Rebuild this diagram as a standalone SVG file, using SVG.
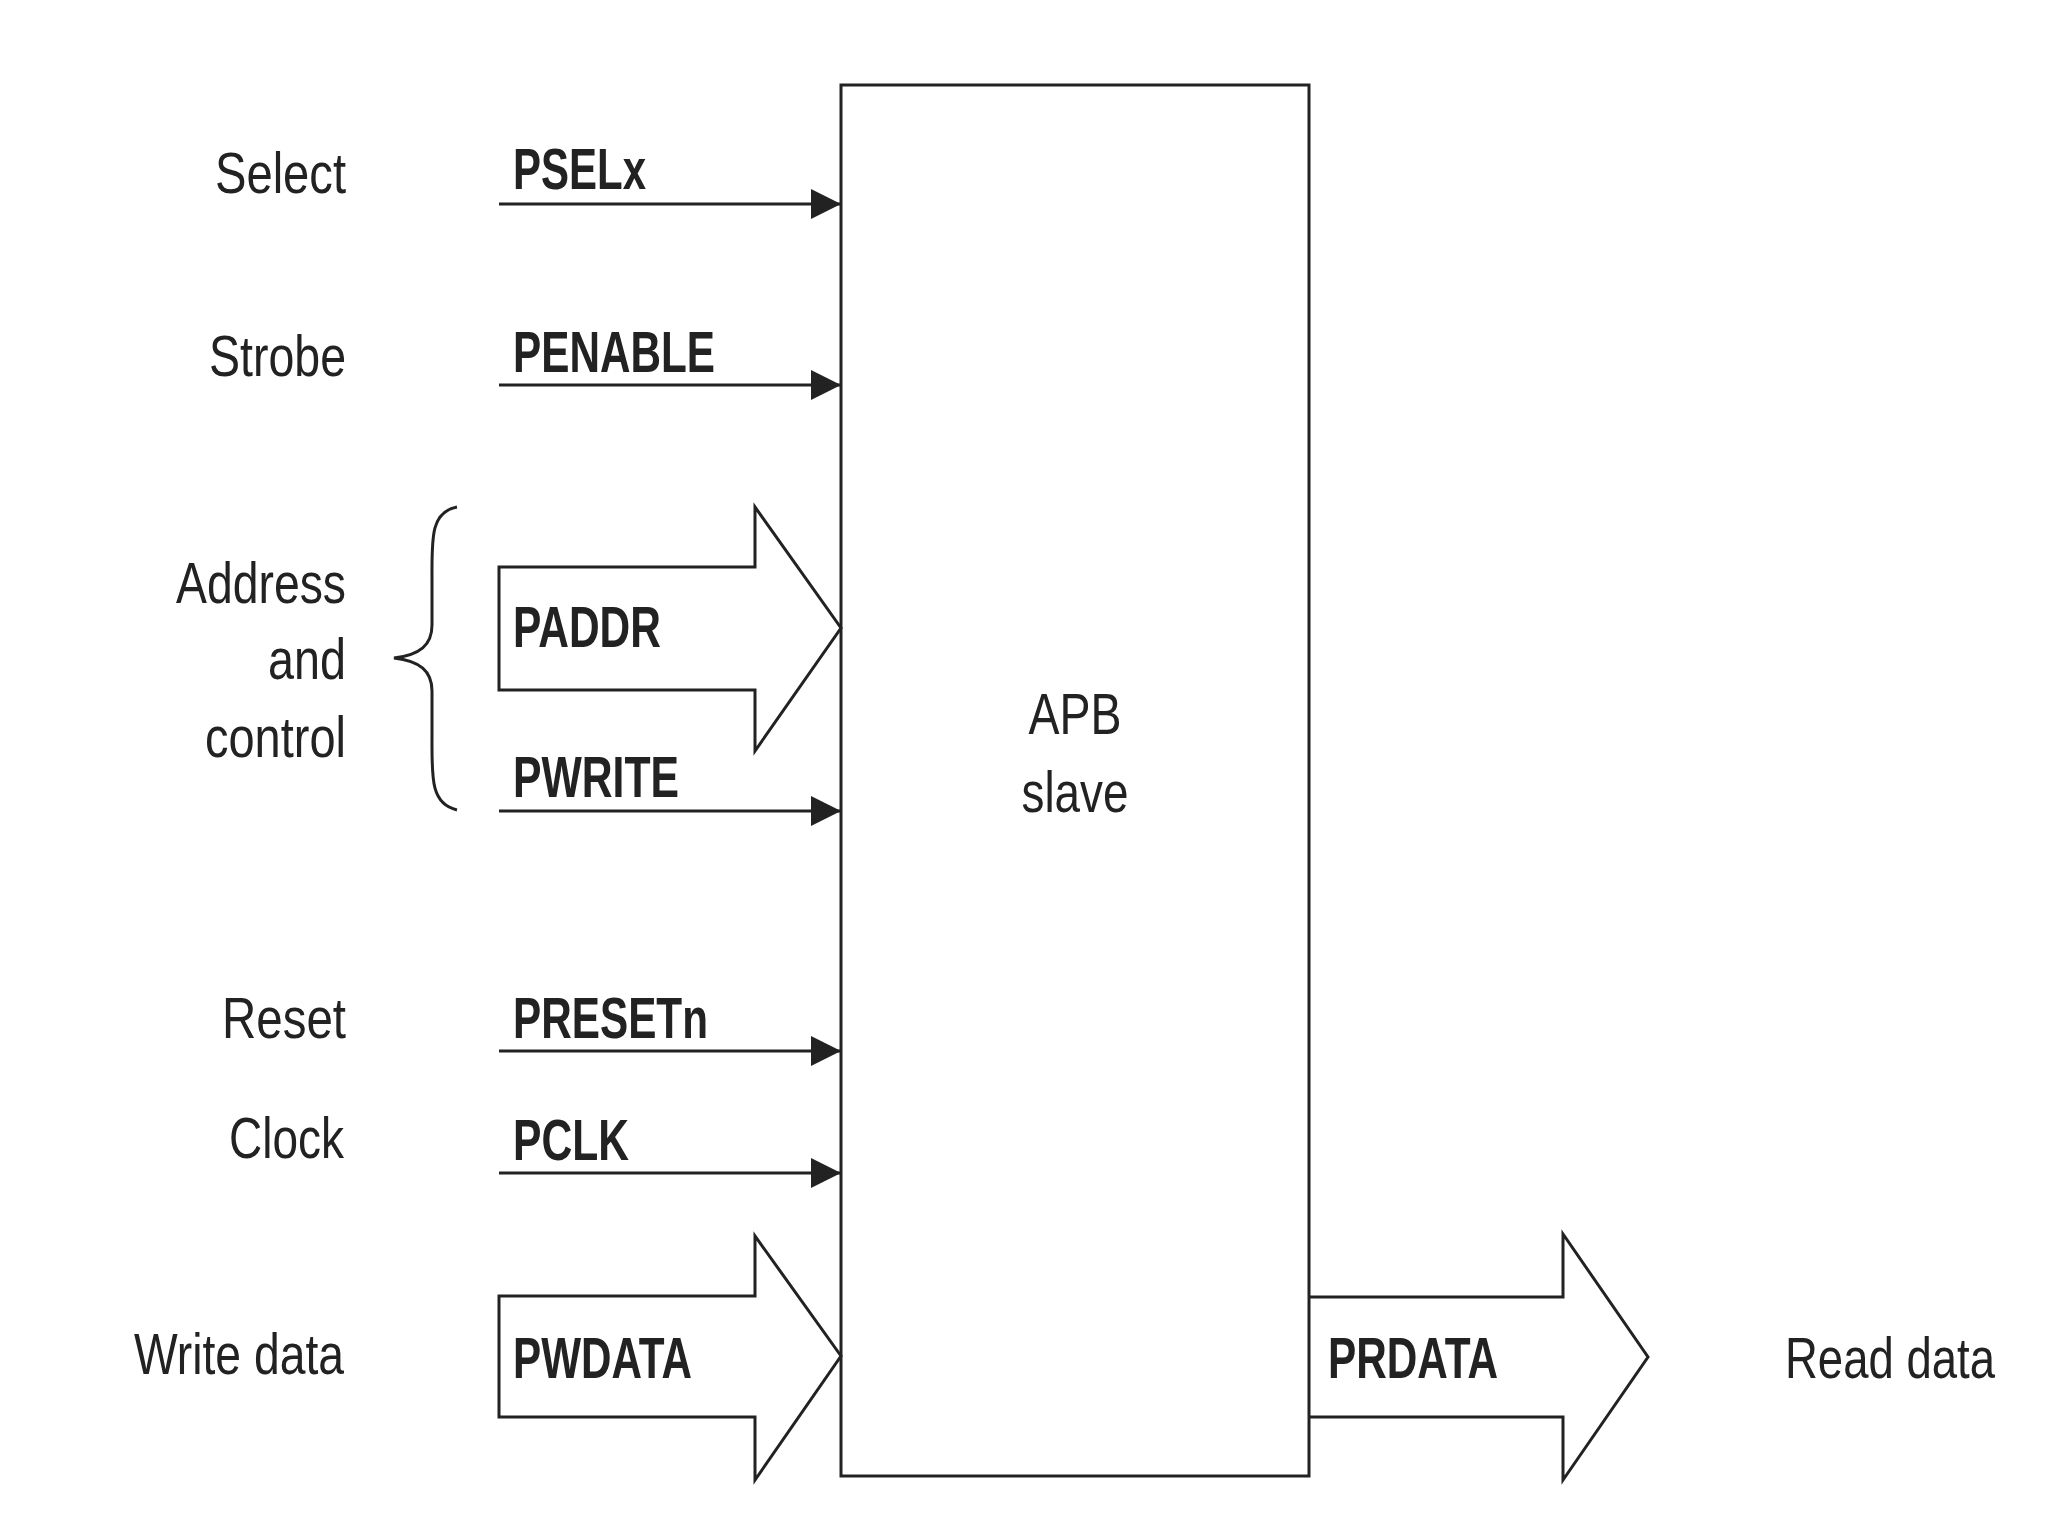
<svg xmlns="http://www.w3.org/2000/svg" width="2048" height="1536" viewBox="0 0 2048 1536">
<style>
.t{font-family:"Liberation Sans",Arial,sans-serif;font-size:58px;fill:#222}
.r{text-anchor:end}
.b{font-weight:bold}
.c{text-anchor:middle}
.ln{stroke:#222;stroke-width:3;fill:none}
</style>
<defs>
<marker id="a" viewBox="0 0 10 10" refX="10" refY="5" markerWidth="34" markerHeight="30" markerUnits="userSpaceOnUse" orient="auto"><path d="M0,0 L10,5 L0,10 z" fill="#222"/></marker></defs>
<rect width="2048" height="1536" fill="#fff"/>
<g id="apb-slave"><rect x="841" y="85" width="468" height="1391" class="ln" fill="#fff"/>
<text class="t c" x="1075" y="734" textLength="93" lengthAdjust="spacingAndGlyphs">APB</text>
<text class="t c" x="1075" y="812" textLength="107" lengthAdjust="spacingAndGlyphs">slave</text></g>
<g id="labels">
<text class="t r" x="346" y="193" textLength="131" lengthAdjust="spacingAndGlyphs">Select</text>
<text class="t r" x="346" y="376" textLength="137" lengthAdjust="spacingAndGlyphs">Strobe</text>
<text class="t r" x="346" y="603" textLength="170" lengthAdjust="spacingAndGlyphs">Address</text>
<text class="t r" x="346" y="679" textLength="78" lengthAdjust="spacingAndGlyphs">and</text>
<text class="t r" x="346" y="757" textLength="141" lengthAdjust="spacingAndGlyphs">control</text>
<text class="t r" x="346" y="1038" textLength="124" lengthAdjust="spacingAndGlyphs">Reset</text>
<text class="t r" x="344" y="1158" textLength="115" lengthAdjust="spacingAndGlyphs">Clock</text>
<text class="t r" x="344" y="1374" textLength="210" lengthAdjust="spacingAndGlyphs">Write data</text>
<text class="t" x="1785" y="1378" textLength="210" lengthAdjust="spacingAndGlyphs">Read data</text>
<path class="ln" d="M457,507 C430,512 432,540 432,580 L432,625 C432,645 420,655 394,658 C420,661 432,671 432,691 L432,736 C432,776 430,804 457,810"/>
</g>
<g id="connectors">
<line class="ln" x1="499" y1="204" x2="841" y2="204" marker-end="url(#a)"/>
<line class="ln" x1="499" y1="385" x2="841" y2="385" marker-end="url(#a)"/>
<line class="ln" x1="499" y1="811" x2="841" y2="811" marker-end="url(#a)"/>
<line class="ln" x1="499" y1="1051" x2="841" y2="1051" marker-end="url(#a)"/>
<line class="ln" x1="499" y1="1173" x2="841" y2="1173" marker-end="url(#a)"/>
<path class="ln" d="M499,567 L755,567 L755,507 L841,628 L755,751 L755,690 L499,690 Z"/>
<path class="ln" d="M499,1296 L755,1296 L755,1236 L841,1356 L755,1480 L755,1417 L499,1417 Z"/>
<path class="ln" d="M1309,1297 L1563,1297 L1563,1234 L1648,1357 L1563,1480 L1563,1417 L1309,1417"/>
<text class="t b" x="513" y="189" textLength="133" lengthAdjust="spacingAndGlyphs">PSELx</text>
<text class="t b" x="513" y="372" textLength="202" lengthAdjust="spacingAndGlyphs">PENABLE</text>
<text class="t b" x="513" y="647" textLength="148" lengthAdjust="spacingAndGlyphs">PADDR</text>
<text class="t b" x="513" y="797" textLength="166" lengthAdjust="spacingAndGlyphs">PWRITE</text>
<text class="t b" x="513" y="1038" textLength="195" lengthAdjust="spacingAndGlyphs">PRESETn</text>
<text class="t b" x="513" y="1160" textLength="116" lengthAdjust="spacingAndGlyphs">PCLK</text>
<text class="t b" x="513" y="1378" textLength="179" lengthAdjust="spacingAndGlyphs">PWDATA</text>
<text class="t b" x="1328" y="1378" textLength="170" lengthAdjust="spacingAndGlyphs">PRDATA</text>
</g>
</svg>
